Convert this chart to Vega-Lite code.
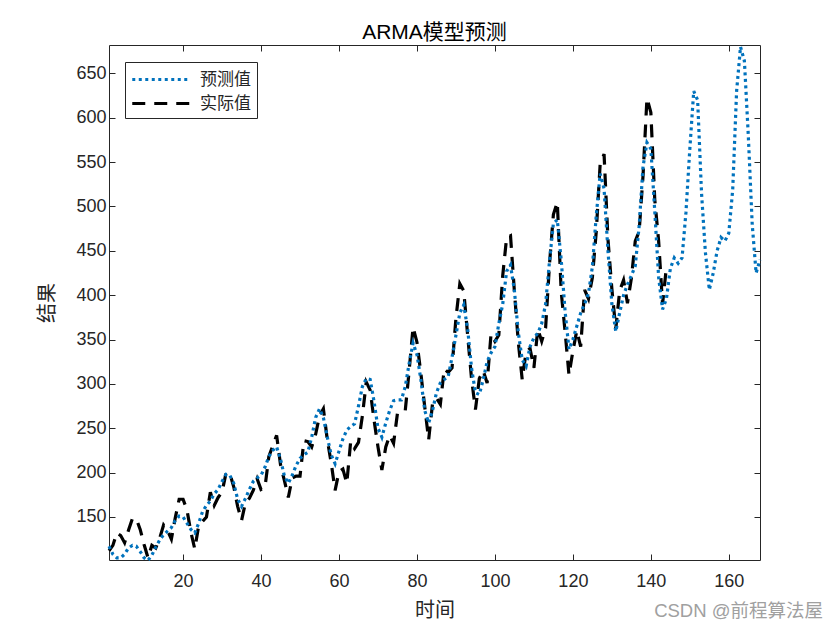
{
  "$schema": "https://vega.github.io/schema/vega-lite/v6.json",
  "autosize": "none",
  "width": 651,
  "height": 515,
  "padding": {"left": 109, "top": 45, "right": 80, "bottom": 70},
  "background": "white",
  "title": {
    "text": "ARMA模型预测",
    "fontSize": 21,
    "fontWeight": "normal",
    "font": "Liberation Sans, Noto Sans CJK SC",
    "color": "#000000",
    "offset": -3
  },
  "config": {
    "view": {"stroke": null},
    "font": "Liberation Sans, Noto Sans CJK SC",
    "axis": {
      "grid": false,
      "domainColor": "#262626",
      "domainWidth": 1,
      "tickColor": "#262626",
      "tickSize": -6,
      "labelColor": "#262626",
      "labelFontSize": 18,
      "labelFont": "Liberation Sans",
      "titleFont": "Noto Sans CJK SC",
      "titleFontSize": 20,
      "titleFontWeight": "normal",
      "titleColor": "#262626"
    }
  },
  "data": {
    "values": [
      {"t": 1, "pred": 117, "actual": 112}, {"t": 2, "pred": 108, "actual": 118}, {"t": 3, "pred": 104, "actual": 132},
      {"t": 4, "pred": 104, "actual": 129}, {"t": 5, "pred": 108, "actual": 121}, {"t": 6, "pred": 115, "actual": 135},
      {"t": 7, "pred": 118, "actual": 148}, {"t": 8, "pred": 117, "actual": 148}, {"t": 9, "pred": 111, "actual": 136},
      {"t": 10, "pred": 104, "actual": 119}, {"t": 11, "pred": 101, "actual": 104}, {"t": 12, "pred": 107, "actual": 118},
      {"t": 13, "pred": 116, "actual": 115}, {"t": 14, "pred": 124, "actual": 126}, {"t": 15, "pred": 130, "actual": 141},
      {"t": 16, "pred": 134, "actual": 135}, {"t": 17, "pred": 138, "actual": 125}, {"t": 18, "pred": 146, "actual": 149},
      {"t": 19, "pred": 151, "actual": 170}, {"t": 20, "pred": 150, "actual": 170}, {"t": 21, "pred": 143, "actual": 158},
      {"t": 22, "pred": 136, "actual": 133}, {"t": 23, "pred": 132, "actual": 114}, {"t": 24, "pred": 143, "actual": 140},
      {"t": 25, "pred": 156, "actual": 145}, {"t": 26, "pred": 163, "actual": 150}, {"t": 27, "pred": 168, "actual": 178},
      {"t": 28, "pred": 176, "actual": 163}, {"t": 29, "pred": 181, "actual": 172}, {"t": 30, "pred": 190, "actual": 178},
      {"t": 31, "pred": 198, "actual": 199}, {"t": 32, "pred": 197, "actual": 199}, {"t": 33, "pred": 188, "actual": 184},
      {"t": 34, "pred": 170, "actual": 162}, {"t": 35, "pred": 162, "actual": 146}, {"t": 36, "pred": 171, "actual": 166},
      {"t": 37, "pred": 181, "actual": 171}, {"t": 38, "pred": 190, "actual": 180}, {"t": 39, "pred": 194, "actual": 193},
      {"t": 40, "pred": 197, "actual": 181}, {"t": 41, "pred": 206, "actual": 183}, {"t": 42, "pred": 218, "actual": 218},
      {"t": 43, "pred": 225, "actual": 230}, {"t": 44, "pred": 229, "actual": 242}, {"t": 45, "pred": 215, "actual": 209},
      {"t": 46, "pred": 196, "actual": 191}, {"t": 47, "pred": 188, "actual": 172}, {"t": 48, "pred": 197, "actual": 194},
      {"t": 49, "pred": 208, "actual": 196}, {"t": 50, "pred": 216, "actual": 196}, {"t": 51, "pred": 220, "actual": 236},
      {"t": 52, "pred": 223, "actual": 235}, {"t": 53, "pred": 240, "actual": 229}, {"t": 54, "pred": 262, "actual": 243},
      {"t": 55, "pred": 272, "actual": 264}, {"t": 56, "pred": 262, "actual": 272}, {"t": 57, "pred": 240, "actual": 237},
      {"t": 58, "pred": 220, "actual": 211}, {"t": 59, "pred": 210, "actual": 180}, {"t": 60, "pred": 224, "actual": 201},
      {"t": 61, "pred": 238, "actual": 204}, {"t": 62, "pred": 248, "actual": 188}, {"t": 63, "pred": 252, "actual": 235},
      {"t": 64, "pred": 255, "actual": 227}, {"t": 65, "pred": 275, "actual": 234}, {"t": 66, "pred": 297, "actual": 264},
      {"t": 67, "pred": 306, "actual": 302}, {"t": 68, "pred": 305, "actual": 293}, {"t": 69, "pred": 280, "actual": 259},
      {"t": 70, "pred": 250, "actual": 229}, {"t": 71, "pred": 240, "actual": 203}, {"t": 72, "pred": 256, "actual": 229},
      {"t": 73, "pred": 270, "actual": 242}, {"t": 74, "pred": 281, "actual": 233}, {"t": 75, "pred": 282, "actual": 267},
      {"t": 76, "pred": 282, "actual": 269}, {"t": 77, "pred": 297, "actual": 270}, {"t": 78, "pred": 323, "actual": 315},
      {"t": 79, "pred": 346, "actual": 364}, {"t": 80, "pred": 333, "actual": 347}, {"t": 81, "pred": 305, "actual": 312},
      {"t": 82, "pred": 270, "actual": 274}, {"t": 83, "pred": 256, "actual": 237}, {"t": 84, "pred": 270, "actual": 278},
      {"t": 85, "pred": 290, "actual": 284}, {"t": 86, "pred": 301, "actual": 277}, {"t": 87, "pred": 305, "actual": 317},
      {"t": 88, "pred": 308, "actual": 313}, {"t": 89, "pred": 330, "actual": 318}, {"t": 90, "pred": 355, "actual": 374},
      {"t": 91, "pred": 380, "actual": 413}, {"t": 92, "pred": 389, "actual": 405}, {"t": 93, "pred": 362, "actual": 355},
      {"t": 94, "pred": 318, "actual": 306}, {"t": 95, "pred": 290, "actual": 271}, {"t": 96, "pred": 288, "actual": 306},
      {"t": 97, "pred": 305, "actual": 315}, {"t": 98, "pred": 325, "actual": 301}, {"t": 99, "pred": 335, "actual": 356},
      {"t": 100, "pred": 342, "actual": 348}, {"t": 101, "pred": 368, "actual": 355}, {"t": 102, "pred": 390, "actual": 422},
      {"t": 103, "pred": 427, "actual": 465}, {"t": 104, "pred": 434, "actual": 467}, {"t": 105, "pred": 405, "actual": 404},
      {"t": 106, "pred": 358, "actual": 347}, {"t": 107, "pred": 327, "actual": 305}, {"t": 108, "pred": 320, "actual": 336},
      {"t": 109, "pred": 342, "actual": 340}, {"t": 110, "pred": 352, "actual": 318}, {"t": 111, "pred": 357, "actual": 362},
      {"t": 112, "pred": 368, "actual": 348}, {"t": 113, "pred": 390, "actual": 363}, {"t": 114, "pred": 438, "actual": 435},
      {"t": 115, "pred": 481, "actual": 491}, {"t": 116, "pred": 485, "actual": 505}, {"t": 117, "pred": 440, "actual": 404},
      {"t": 118, "pred": 382, "actual": 359}, {"t": 119, "pred": 339, "actual": 310}, {"t": 120, "pred": 350, "actual": 337},
      {"t": 121, "pred": 365, "actual": 360}, {"t": 122, "pred": 380, "actual": 342}, {"t": 123, "pred": 390, "actual": 406},
      {"t": 124, "pred": 402, "actual": 396}, {"t": 125, "pred": 432, "actual": 420}, {"t": 126, "pred": 490, "actual": 472},
      {"t": 127, "pred": 537, "actual": 548}, {"t": 128, "pred": 520, "actual": 559}, {"t": 129, "pred": 450, "actual": 463},
      {"t": 130, "pred": 390, "actual": 407}, {"t": 131, "pred": 359, "actual": 362}, {"t": 132, "pred": 380, "actual": 405},
      {"t": 133, "pred": 400, "actual": 417}, {"t": 134, "pred": 412, "actual": 391}, {"t": 135, "pred": 422, "actual": 419},
      {"t": 136, "pred": 433, "actual": 461}, {"t": 137, "pred": 478, "actual": 472}, {"t": 138, "pred": 545, "actual": 535},
      {"t": 139, "pred": 572, "actual": 622}, {"t": 140, "pred": 565, "actual": 606}, {"t": 141, "pred": 495, "actual": 508},
      {"t": 142, "pred": 420, "actual": 461}, {"t": 143, "pred": 384, "actual": 390}, {"t": 144, "pred": 396, "actual": 432},
      {"t": 145, "pred": 430}, {"t": 146, "pred": 442}, {"t": 147, "pred": 436}, {"t": 148, "pred": 442},
      {"t": 149, "pred": 493}, {"t": 150, "pred": 565}, {"t": 151, "pred": 630}, {"t": 152, "pred": 620},
      {"t": 153, "pred": 515}, {"t": 154, "pred": 448}, {"t": 155, "pred": 406}, {"t": 156, "pred": 425},
      {"t": 157, "pred": 450}, {"t": 158, "pred": 465}, {"t": 159, "pred": 461}, {"t": 160, "pred": 470},
      {"t": 161, "pred": 519}, {"t": 162, "pred": 630}, {"t": 163, "pred": 680}, {"t": 164, "pred": 664},
      {"t": 165, "pred": 580}, {"t": 166, "pred": 480}, {"t": 167, "pred": 425}, {"t": 168, "pred": 440}
    ]
  },
  "layer": [
    {
      "transform": [{"fold": ["actual", "pred"], "as": ["series", "value"]}],
      "mark": {"type": "line", "strokeWidth": 3.2, "strokeCap": "butt"},
      "encoding": {
        "x": {
          "field": "t",
          "type": "quantitative",
          "scale": {"domain": [1, 168], "nice": false, "zero": false},
          "axis": {"orient": "bottom", "values": [20, 40, 60, 80, 100, 120, 140, 160], "title": "时间", "titlePadding": 10, "labelPadding": 18}
        },
        "y": {
          "field": "value",
          "type": "quantitative",
          "scale": {"domain": [101.5, 682], "nice": false, "zero": false},
          "axis": {"orient": "left", "values": [150, 200, 250, 300, 350, 400, 450, 500, 550, 600, 650], "title": "结果", "titlePadding": 18, "labelPadding": 9}
        },
        "color": {
          "field": "series",
          "type": "nominal",
          "scale": {"domain": ["pred", "actual"], "range": ["#0072BD", "#000000"]},
          "legend": {
            "orient": "none",
            "legendX": 16,
            "legendY": 17,
            "title": null,
            "strokeColor": "#262626",
            "fillColor": "white",
            "padding": 6,
            "symbolType": "M-3,0H3",
            "symbolSize": 380,
            "symbolStrokeWidth": 3,
            "symbolOffset": 19,
            "labelOffset": 27,
            "labelFontSize": 17,
            "labelFont": "Noto Sans CJK SC",
            "labelColor": "#262626",
            "rowPadding": 4,
            "labelExpr": "datum.label == 'pred' ? '预测值\u3000\u00a0\u00a0\u00a0' : '实际值\u3000\u00a0\u00a0\u00a0'"
          }
        },
        "strokeDash": {
          "field": "series",
          "type": "nominal",
          "scale": {"domain": ["pred", "actual"], "range": [[3, 3.5], [13, 9]]},
          "legend": {
            "orient": "none",
            "legendX": 16,
            "legendY": 17,
            "title": null,
            "strokeColor": "#262626",
            "fillColor": "white",
            "padding": 6,
            "symbolType": "M-3,0H3",
            "symbolSize": 380,
            "symbolStrokeWidth": 3,
            "symbolOffset": 19,
            "labelOffset": 27,
            "labelFontSize": 17,
            "labelFont": "Noto Sans CJK SC",
            "labelColor": "#262626",
            "rowPadding": 4,
            "labelExpr": "datum.label == 'pred' ? '预测值\u3000\u00a0\u00a0\u00a0' : '实际值\u3000\u00a0\u00a0\u00a0'"
          }
        },
        "order": {"field": "t", "type": "quantitative"}
      }
    },
    {
      "mark": {"type": "point", "opacity": 0},
      "encoding": {
        "x": {
          "field": "t",
          "type": "quantitative",
          "axis": {"orient": "top", "values": [20, 40, 60, 80, 100, 120, 140, 160], "labels": false, "title": null}
        },
        "y": {
          "field": "pred",
          "type": "quantitative",
          "axis": {"orient": "right", "values": [150, 200, 250, 300, 350, 400, 450, 500, 550, 600, 650], "labels": false, "title": null}
        }
      }
    },
    {
      "data": {"values": [{"note": "CSDN @前程算法屋"}]},
      "mark": {"type": "text", "align": "right", "baseline": "middle", "dx": 63, "dy": 51, "fontSize": 18.5, "color": "#a0a0a0", "font": "Liberation Sans, Noto Sans CJK SC"},
      "encoding": {
        "text": {"field": "note"},
        "x": {"datum": 168, "axis": null},
        "y": {"datum": 101.5, "axis": null}
      }
    }
  ],
  "resolve": {"axis": {"x": "independent", "y": "independent"}}
}
